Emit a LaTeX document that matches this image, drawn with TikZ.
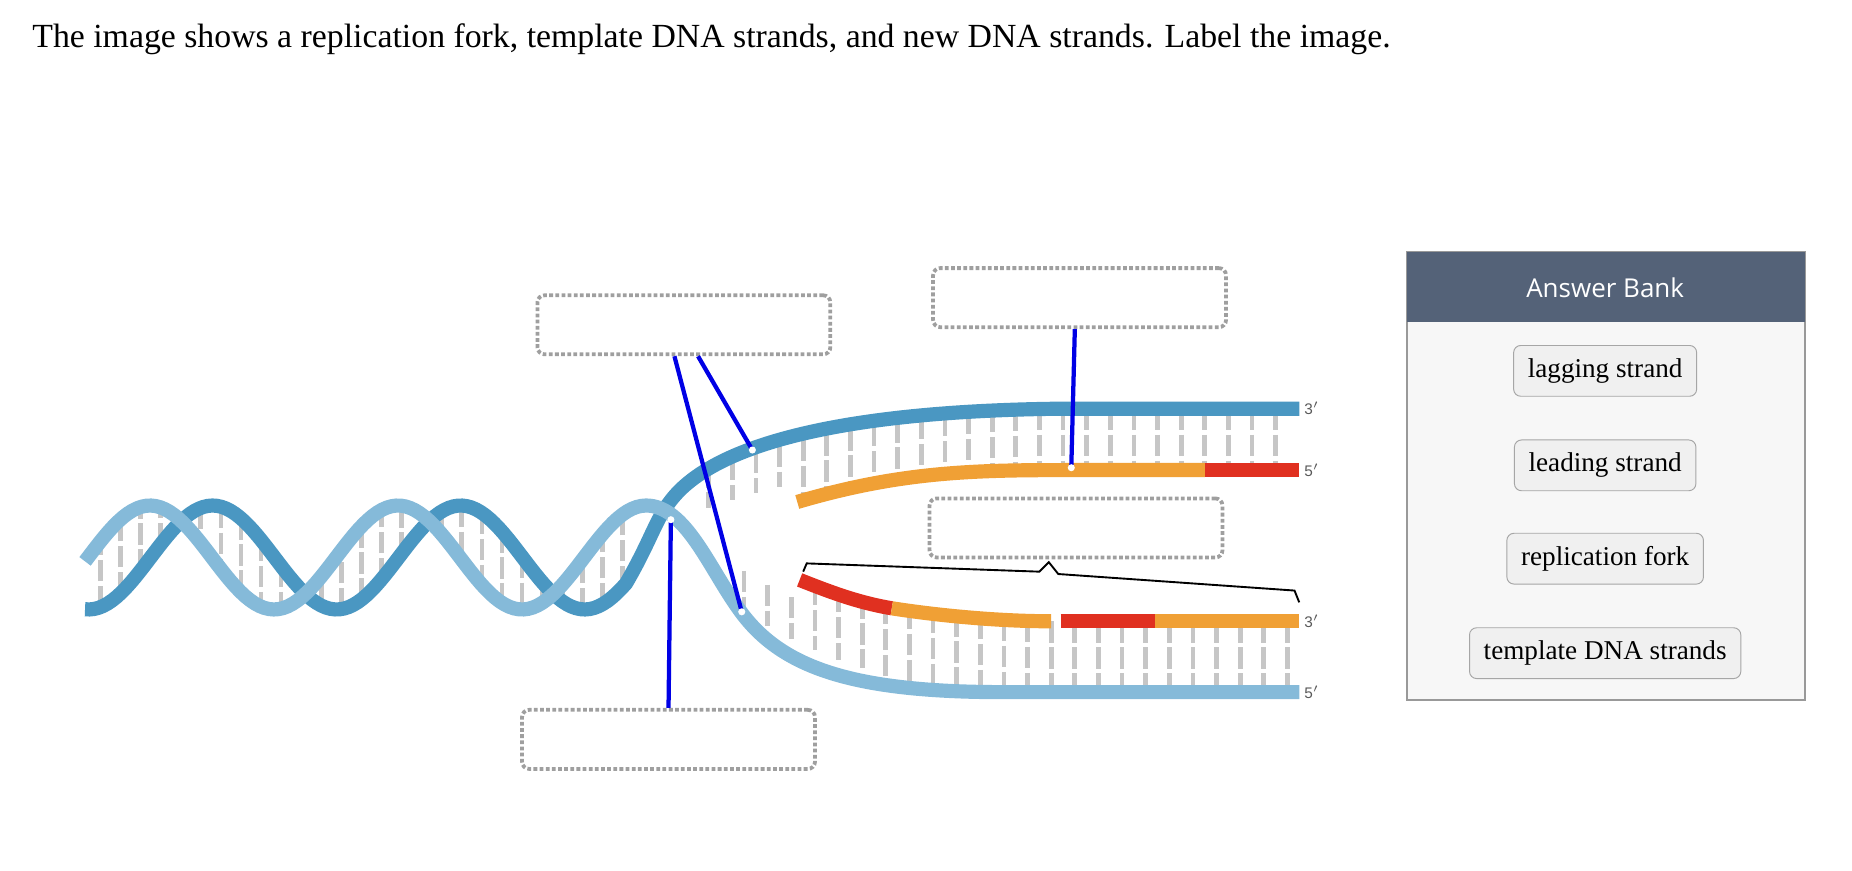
\documentclass[tikz,border=0pt]{standalone}
\usepackage{fontspec}
\setmainfont{Liberation Serif}
\newfontfamily\hdfont{Open Sans}
\newfontfamily\lblfont{Liberation Sans}
\begin{document}
\begin{tikzpicture}[x=0.5pt,y=-0.5pt,
  slot/.style={draw=gray!75,densely dotted,line width=1.6pt,rounded corners=3pt,minimum width=124pt,minimum height=25pt,inner sep=0pt},
  btn/.style={draw=gray!70,fill=gray!12,rounded corners=3pt,minimum height=21.5pt,inner xsep=6pt,font=\fontsize{11.5}{13}\selectfont},
  rung/.style={draw=gray!45,line width=2pt,dash pattern=on 9pt off 2pt},
  strand/.style={line width=6pt},
  pin/.style={draw=blue!90!black,line width=1.8pt},
  endpt/.style={circle,fill=white,inner sep=0pt,minimum size=3pt}]
\definecolor{lb}{HTML}{85BAD9}
\definecolor{db}{HTML}{4A97C2}
\definecolor{org}{HTML}{F0A035}
\definecolor{rd}{HTML}{E03020}
\definecolor{hdr}{HTML}{546278}
\useasboundingbox (0,0) rectangle (1568,737);
\node[anchor=base west,inner sep=0pt,font=\fontsize{14.3}{16}\selectfont] (title) at (27,40) {The image shows a replication fork, template DNA strands, and new DNA strands. Label the image.};
% helix rungs
\foreach \x in {85,102,...,540}{
  \pgfmathsetmacro{\ya}{472+44*cos((\x-75)/210*360)}
  \pgfmathsetmacro{\yb}{472+44*cos((\x-232)/210*360)}
  \draw[rung] (\x,\ya) -- (\x,\yb);}
% fork rungs upper
\foreach \x in {600,620,...,1090}{
  \pgfmathsetmacro{\yt}{\x<900 ? 346+((900-\x)/100)^2*5.44 : 346}
  \pgfmathsetmacro{\yb}{\x<675 ? \yt+35 : (\x<900 ? 398+((900-\x)/100)^2*5.33 : 398)}
  \draw[rung] (\x,\yt) -- (\x,\yb);}
% fork rungs lower
\foreach \x in {630,650,...,1090}{
  \pgfmathsetmacro{\yb}{\x<850 ? 586-((850-\x)/100)^2*14 : 586}
  \pgfmathsetmacro{\yt}{\x<676 ? \yb-35 : (\x<890 ? 526-((890-\x)/100)^2*7.86 : 526)}
  \draw[rung] (\x,\yt) -- (\x,\yb);}
% strands
\draw[strand,db,domain=72:530,samples=120] plot (\x,{472+44*cos((\x-75)/210*360)})
  .. controls (550,460) and (555,440) .. (567,425) .. controls (600,380) and (700,348) .. (900,346) -- (1100,346);
\draw[strand,lb,domain=72:547,samples=120] plot (\x,{472+44*cos((\x-232)/210*360)})
  .. controls (580,428) and (600,480) .. (625,515) .. controls (660,565) and (720,586) .. (850,586) -- (1100,586);
% new strands
\draw[strand,org] (675,425) .. controls (760,400) and (820,398) .. (900,398) -- (1020,398);
\draw[strand,rd] (1020,398) -- (1100,398);
\draw[strand,rd] (677,491) .. controls (700,500) and (725,510) .. (755,515);
\draw[strand,org] (755,515) .. controls (800,522) and (850,526) .. (890,526);
\draw[strand,rd] (898,526) -- (978,526);
\draw[strand,org] (978,526) -- (1100,526);
% end labels
\foreach \y/\t in {346/3,398/5,526/3,586/5}
  \node[anchor=west,inner sep=0pt,font=\lblfont\fontsize{6.5}{7}\selectfont,text=gray!70!black] at (1104,\y) {\t$'$};
% brace
\draw[line width=0.8pt] (680,484) -- (683,477) -- (880,484) -- (888,476) -- (896,486) -- (1096,500) -- (1100,510);
% slots
\node[slot] (bA) at (579,275) {};
\node[slot] (bB) at (914,252) {};
\node[slot] (bC) at (911,447) {};
\node[slot] (bD) at (566,626) {};
% pins
\coordinate (p1) at (637,381);
\coordinate (p2) at (628,518);
\coordinate (p3) at (907,396);
\coordinate (p4) at (568,440);
\draw[pin] ([xshift=6]bA.south) -- (p1);
\draw[pin] ([xshift=-4]bA.south) -- (p2);
\draw[pin] ([xshift=-2]bB.south) -- (p3);
\draw[pin] (bD.north) -- (p4);
\foreach \p in {p1,p2,p3,p4} \node[endpt] at (\p) {};
% answer bank
\draw[gray!80,fill=gray!6,line width=0.8pt] (1191,213) rectangle (1528,593);
\fill[hdr] (1191,213) rectangle (1528,273);
\node[text=white,font=\hdfont\fontsize{11}{13}\selectfont] (hd) at (1359,244) {Answer Bank};
\node[btn] (b1) at (1359,314) {lagging strand};
\node[btn] (b2) at (1359,394) {leading strand};
\node[btn] (b3) at (1359,473) {replication fork};
\node[btn] (b4) at (1359,553) {template DNA strands};
\end{tikzpicture}
\end{document}
